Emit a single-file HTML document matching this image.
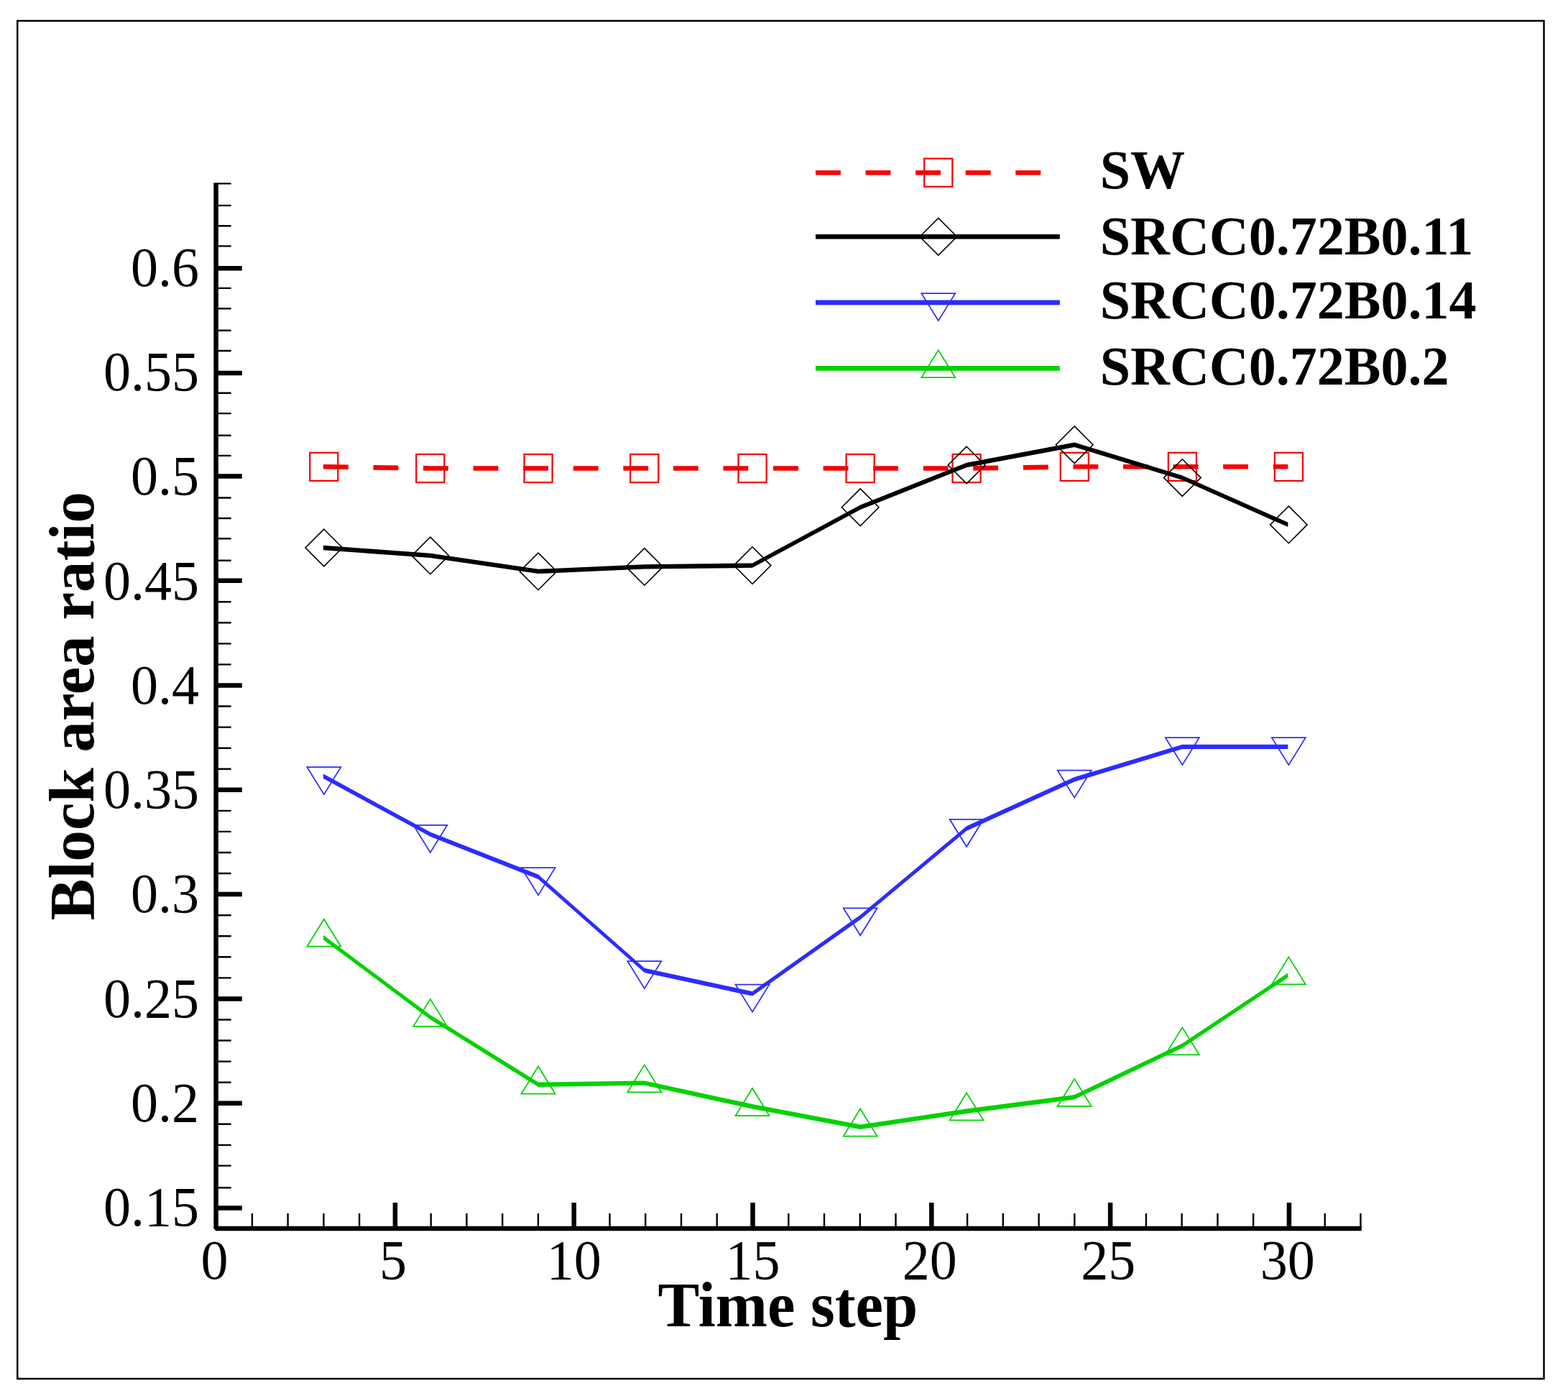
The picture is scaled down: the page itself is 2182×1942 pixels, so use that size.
<!DOCTYPE html>
<html lang="en">
<head>
<meta charset="utf-8">
<title>Block area ratio vs. Time step</title>
<style>
html,body{margin:0;padding:0;background:#fff;width:2182px;height:1942px;}
svg{display:block;}
text{font-family:"Liberation Serif","Times New Roman",serif;fill:#000;}
.tk{font-size:76px;}
.lg{font-size:76px;font-weight:bold;}
.ti{font-size:87px;font-weight:bold;}
</style>
</head>
<body>
<svg width="2182" height="1942" viewBox="0 0 2182 1942">
<rect x="0" y="0" width="2182" height="1942" fill="#fff"/>
<!-- frame -->
<path d="M24.25 29H2148.5V1918H24.25Z" fill="none" stroke="#000" stroke-width="2.5"/>
<!-- axes -->
<g stroke="#000" fill="none">
<path d="M300.6 254.3V1709H1894.7" stroke-width="6.5" stroke-linejoin="bevel"/>
<path d="M300.6 1652.2H321.6M300.6 1621.6H321.6M300.6 1592.9H321.6M300.6 1563.8H321.6M300.6 1505.7H321.6M300.6 1476.6H321.6M300.6 1447.5H321.6M300.6 1418.5H321.6M300.6 1360.4H321.6M300.6 1331.3H321.6M300.6 1302.2H321.6M300.6 1273.2H321.6M300.6 1215H321.6M300.6 1186H321.6M300.6 1156.9H321.6M300.6 1127.9H321.6M300.6 1069.7H321.6M300.6 1040.7H321.6M300.6 1011.6H321.6M300.6 982.5H321.6M300.6 924.4H321.6M300.6 895.4H321.6M300.6 866.3H321.6M300.6 837.2H321.6M300.6 779.8H321.6M300.6 749.2H321.6M300.6 721H321.6M300.6 692.5H321.6M300.6 633.9H321.6M300.6 605.7H321.6M300.6 575.1H321.6M300.6 546.8H321.6M300.6 488H321.6M300.6 459.8H321.6M300.6 429.2H321.6M300.6 400.9H321.6M300.6 342.4H321.6M300.6 314.2H321.6M300.6 285.9H321.6M300.6 255.4H321.6" stroke-width="2.4"/>
<path d="M300.6 1680.4H336.8M300.6 1534.7H336.8M300.6 1389.4H336.8M300.6 1244.1H336.8M300.6 1098.8H336.8M300.6 953.5H336.8M300.6 807.8H336.8M300.6 662.4H336.8M300.6 518.9H336.8M300.6 373.2H336.8" stroke-width="6.5"/>
<path d="M350.9 1709V1687.9M400.6 1709V1687.9M450.4 1709V1687.9M500.1 1709V1687.9M599.7 1709V1687.9M649.4 1709V1687.9M699.2 1709V1687.9M748.9 1709V1687.9M848.5 1709V1687.9M898.2 1709V1687.9M948 1709V1687.9M997.7 1709V1687.9M1097.3 1709V1687.9M1147 1709V1687.9M1196.8 1709V1687.9M1246.5 1709V1687.9M1346.1 1709V1687.9M1395.8 1709V1687.9M1445.6 1709V1687.9M1495.3 1709V1687.9M1594.9 1709V1687.9M1644.6 1709V1687.9M1694.4 1709V1687.9M1744.1 1709V1687.9M1843.7 1709V1687.9M1893.4 1709V1687.9" stroke-width="2.4"/>
<path d="M549.9 1709V1672.9M798.7 1709V1672.9M1047.5 1709V1672.9M1296.3 1709V1672.9M1545.1 1709V1672.9M1793.9 1709V1672.9" stroke-width="6.5"/>
</g>
<!-- tick labels -->
<g class="tk" text-anchor="end">
<text transform="translate(276.9 1705.3) scale(1 1.03)">0.15</text>
<text transform="translate(276.9 1560) scale(1 1.03)">0.2</text>
<text transform="translate(276.9 1414.7) scale(1 1.03)">0.25</text>
<text transform="translate(276.9 1269.4) scale(1 1.03)">0.3</text>
<text transform="translate(276.9 1124.1) scale(1 1.03)">0.35</text>
<text transform="translate(276.9 978.8) scale(1 1.03)">0.4</text>
<text transform="translate(276.9 833.5) scale(1 1.03)">0.45</text>
<text transform="translate(276.9 688.2) scale(1 1.03)">0.5</text>
<text transform="translate(276.9 542.9) scale(1 1.03)">0.55</text>
<text transform="translate(276.9 397.5) scale(1 1.03)">0.6</text>
</g>
<g class="tk" text-anchor="middle">
<text transform="translate(298.6 1779) scale(1 1.03)">0</text>
<text transform="translate(547.1 1779) scale(1 1.03)">5</text>
<text transform="translate(798.7 1779) scale(1 1.03)">10</text>
<text transform="translate(1047.5 1779) scale(1 1.03)">15</text>
<text transform="translate(1293.7 1779) scale(1 1.03)">20</text>
<text transform="translate(1542.3 1779) scale(1 1.03)">25</text>
<text transform="translate(1791.7 1779) scale(1 1.03)">30</text>
</g>
<!-- axis titles -->
<text class="ti" text-anchor="middle" transform="translate(1096.3 1845) scale(0.996 1.025)">Time step</text>
<text class="ti" text-anchor="middle" transform="translate(129.8 982.3) rotate(-90) scale(0.998 1.01)">Block area ratio</text>
<!-- series: SW -->
<polyline points="449.9,649.3 598.8,651.5 749,651.5 896.8,651.5 1047,651.5 1197.2,651.5 1345.1,651.5 1495.2,649.3 1645.3,649.3 1792.3,649.3" fill="none" stroke="#f50000" stroke-width="6.6" stroke-linejoin="round" stroke-dasharray="34.85 34.72"/>
<rect x="431.2" y="629.8" width="39.1" height="39.1" fill="none" stroke="#f50000" stroke-width="2.2"/>
<rect x="579.2" y="632" width="39.1" height="39.1" fill="none" stroke="#f50000" stroke-width="2.2"/>
<rect x="729.5" y="632" width="39.1" height="39.1" fill="none" stroke="#f50000" stroke-width="2.2"/>
<rect x="877.2" y="632" width="39.1" height="39.1" fill="none" stroke="#f50000" stroke-width="2.2"/>
<rect x="1027.5" y="632" width="39.1" height="39.1" fill="none" stroke="#f50000" stroke-width="2.2"/>
<rect x="1177.6" y="632" width="39.1" height="39.1" fill="none" stroke="#f50000" stroke-width="2.2"/>
<rect x="1325.5" y="632" width="39.1" height="39.1" fill="none" stroke="#f50000" stroke-width="2.2"/>
<rect x="1475.7" y="629.8" width="39.1" height="39.1" fill="none" stroke="#f50000" stroke-width="2.2"/>
<rect x="1625.8" y="629.8" width="39.1" height="39.1" fill="none" stroke="#f50000" stroke-width="2.2"/>
<rect x="1773.8" y="629.8" width="39.1" height="39.1" fill="none" stroke="#f50000" stroke-width="2.2"/>
<!-- series: SRCC0.72B0.11 -->
<polygon points="449.9,758.8 598.8,769.7 749,791.7 896.8,785.2 1047,783.4 1197.2,702.5 1345.1,643.8 1495.2,615.5 1645.3,661.4 1792.3,726.7 1792.3,733.1 1645.3,667.8 1495.2,621.9 1345.1,650.2 1197.2,708.9 1047,789.8 896.8,791.6 749,798.1 598.8,776.1 449.9,765.2" fill="#000"/>
<path d="M450.8 736.2L476.6 762L450.8 787.8L425 762Z" fill="none" stroke="#000" stroke-width="1.6"/>
<path d="M598.8 747.1L624.6 772.9L598.8 798.7L573 772.9Z" fill="none" stroke="#000" stroke-width="1.6"/>
<path d="M749 769.1L774.8 794.9L749 820.7L723.2 794.9Z" fill="none" stroke="#000" stroke-width="1.6"/>
<path d="M896.8 762.6L922.6 788.4L896.8 814.2L871 788.4Z" fill="none" stroke="#000" stroke-width="1.6"/>
<path d="M1047 760.8L1072.8 786.6L1047 812.4L1021.2 786.6Z" fill="none" stroke="#000" stroke-width="1.6"/>
<path d="M1197.2 679.9L1223 705.7L1197.2 731.5L1171.4 705.7Z" fill="none" stroke="#000" stroke-width="1.6"/>
<path d="M1345.1 621.2L1370.9 647L1345.1 672.8L1319.3 647Z" fill="none" stroke="#000" stroke-width="1.6"/>
<path d="M1495.2 592.9L1521 618.7L1495.2 644.5L1469.4 618.7Z" fill="none" stroke="#000" stroke-width="1.6"/>
<path d="M1645.3 638.8L1671.1 664.6L1645.3 690.4L1619.5 664.6Z" fill="none" stroke="#000" stroke-width="1.6"/>
<path d="M1793.3 704.1L1819.1 729.9L1793.3 755.7L1767.5 729.9Z" fill="none" stroke="#000" stroke-width="1.6"/>
<!-- series: SRCC0.72B0.14 -->
<polygon points="449.9,1076.6 598.8,1157.4 749,1216.6 896.8,1346.7 1047,1379.2 1197.2,1272.8 1345.1,1149.3 1495.2,1081.1 1645.3,1035.7 1792.3,1035.7 1792.3,1042.1 1645.3,1042.1 1495.2,1087.5 1345.1,1155.7 1197.2,1279.2 1047,1385.6 896.8,1353.1 749,1223 598.8,1163.8 449.9,1083" fill="#2c2cff"/>
<path d="M427.3 1067.1L474.3 1067.1L450.8 1105.1Z" fill="none" stroke="#2c2cff" stroke-width="1.75"/>
<path d="M575.3 1147.9L622.3 1147.9L598.8 1185.9Z" fill="none" stroke="#2c2cff" stroke-width="1.75"/>
<path d="M725.5 1207.1L772.5 1207.1L749 1245.1Z" fill="none" stroke="#2c2cff" stroke-width="1.75"/>
<path d="M873.3 1337.2L920.3 1337.2L896.8 1375.2Z" fill="none" stroke="#2c2cff" stroke-width="1.75"/>
<path d="M1023.5 1369.7L1070.5 1369.7L1047 1407.7Z" fill="none" stroke="#2c2cff" stroke-width="1.75"/>
<path d="M1173.7 1263.3L1220.7 1263.3L1197.2 1301.3Z" fill="none" stroke="#2c2cff" stroke-width="1.75"/>
<path d="M1321.6 1139.8L1368.6 1139.8L1345.1 1177.8Z" fill="none" stroke="#2c2cff" stroke-width="1.75"/>
<path d="M1471.7 1071.6L1518.7 1071.6L1495.2 1109.6Z" fill="none" stroke="#2c2cff" stroke-width="1.75"/>
<path d="M1621.8 1026.2L1668.8 1026.2L1645.3 1064.2Z" fill="none" stroke="#2c2cff" stroke-width="1.75"/>
<path d="M1769.8 1026.2L1816.8 1026.2L1793.3 1064.2Z" fill="none" stroke="#2c2cff" stroke-width="1.75"/>
<!-- series: SRCC0.72B0.2 -->
<polygon points="449.9,1300.8 598.8,1411.9 749,1505.6 896.8,1503.4 1047,1536.1 1197.2,1564.6 1345.1,1542.5 1495.2,1523 1645.3,1451.4 1792.3,1353.5 1792.3,1359.9 1645.3,1457.8 1495.2,1529.4 1345.1,1548.9 1197.2,1571 1047,1542.5 896.8,1509.8 749,1512 598.8,1418.3 449.9,1307.2" fill="#00d200"/>
<path d="M427.3 1316.7L474.3 1316.7L450.8 1278.7Z" fill="none" stroke="#00d200" stroke-width="1.75"/>
<path d="M575.3 1427.8L622.3 1427.8L598.8 1389.8Z" fill="none" stroke="#00d200" stroke-width="1.75"/>
<path d="M725.5 1521.5L772.5 1521.5L749 1483.5Z" fill="none" stroke="#00d200" stroke-width="1.75"/>
<path d="M873.3 1519.3L920.3 1519.3L896.8 1481.3Z" fill="none" stroke="#00d200" stroke-width="1.75"/>
<path d="M1023.5 1552L1070.5 1552L1047 1514Z" fill="none" stroke="#00d200" stroke-width="1.75"/>
<path d="M1173.7 1580.5L1220.7 1580.5L1197.2 1542.5Z" fill="none" stroke="#00d200" stroke-width="1.75"/>
<path d="M1321.6 1558.4L1368.6 1558.4L1345.1 1520.4Z" fill="none" stroke="#00d200" stroke-width="1.75"/>
<path d="M1471.7 1538.9L1518.7 1538.9L1495.2 1500.9Z" fill="none" stroke="#00d200" stroke-width="1.75"/>
<path d="M1621.8 1467.3L1668.8 1467.3L1645.3 1429.3Z" fill="none" stroke="#00d200" stroke-width="1.75"/>
<path d="M1769.8 1369.4L1816.8 1369.4L1793.3 1331.4Z" fill="none" stroke="#00d200" stroke-width="1.75"/>
<!-- legend -->
<path d="M1135 240.2H1474.8" stroke="#f50000" stroke-width="6.6" fill="none" stroke-dasharray="34.85 34.72"/>
<rect x="1286.2" y="220.6" width="39.1" height="39.1" fill="none" stroke="#f50000" stroke-width="2.2"/>
<text class="lg" x="1530.8" y="262.2">SW</text>
<path d="M1135 329.2H1474.8" stroke="#000" stroke-width="6.6" fill="none"/>
<path d="M1305.8 303.4L1331.6 329.2L1305.8 355L1280 329.2Z" fill="none" stroke="#000" stroke-width="1.6"/>
<text class="lg" x="1530.8" y="354">SRCC0.72B0.11</text>
<path d="M1135 420.9H1474.8" stroke="#2c2cff" stroke-width="6.6" fill="none"/>
<path d="M1282.3 408.2L1329.3 408.2L1305.8 446.2Z" fill="none" stroke="#2c2cff" stroke-width="1.75"/>
<text class="lg" x="1530.8" y="443.3">SRCC0.72B0.14</text>
<path d="M1135 512.4H1474.8" stroke="#00d200" stroke-width="6.6" fill="none"/>
<path d="M1282.3 525.1L1329.3 525.1L1305.8 487.1Z" fill="none" stroke="#00d200" stroke-width="1.75"/>
<text class="lg" x="1530.8" y="534.6">SRCC0.72B0.2</text>
</svg>
</body>
</html>
